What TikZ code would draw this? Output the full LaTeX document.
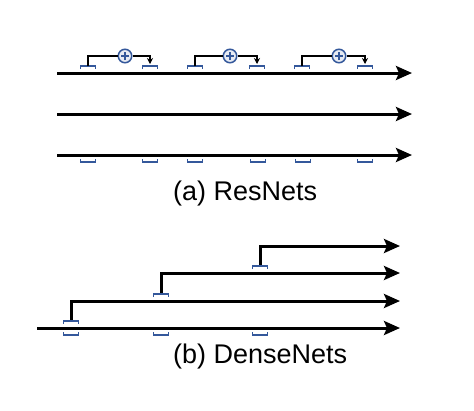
\documentclass[tikz,border=0pt]{standalone}
\usepackage{fontspec}
\setmainfont{Liberation Sans}
\usetikzlibrary{arrows.meta}
\definecolor{brblue}{RGB}{52,88,155}
\tikzset{
  x=1pt,y=-1pt,
  mainline/.style={line width=3pt,-{Stealth[length=16pt,width=14pt,inset=3pt]}},
  skipline/.style={line width=1.4pt},
  skiparrow/.style={line width=1.4pt,-{Stealth[length=6pt,width=6pt]}},
  brline/.style={draw=brblue,line width=1.8pt},
  pics/topbr/.style={code={\draw[brline] (-7.5,-4) -- (-7.5,-7) -- (7.5,-7) -- (7.5,-4);}},
  pics/botbr/.style={code={\draw[brline] (-7.5,4) -- (-7.5,7) -- (7.5,7) -- (7.5,4);}},
  addnode/.style={circle,draw=brblue,line width=1.5pt,fill=brblue!12,inner sep=0pt,minimum size=13.5pt,
    path picture={\draw[brblue,line width=1.8pt] ([xshift=-4pt]path picture bounding box.center) -- ([xshift=4pt]path picture bounding box.center)
      ([yshift=-4pt]path picture bounding box.center) -- ([yshift=4pt]path picture bounding box.center);}},
  label/.style={font=\fontsize{27}{30}\selectfont,inner sep=0pt,anchor=base west}
}
\begin{document}
\begin{tikzpicture}
\useasboundingbox (0,0) rectangle (474,410);
% ResNets main lines
\coordinate (a1s) at (57,73);  \coordinate (a1e) at (412,73);
\coordinate (a2s) at (57,114); \coordinate (a2e) at (412,114);
\coordinate (a3s) at (57,155); \coordinate (a3e) at (412,155);
\draw[mainline] (a1s) -- (a1e);
\draw[mainline] (a2s) -- (a2e);
\draw[mainline] (a3s) -- (a3e);
% skip connections
\foreach \i/\l/\c/\r in {1/88/125/150, 2/195/230/257, 3/302/339/365}{
  \pic at (\l,73) {topbr};
  \pic at (\r,73) {topbr};
  \coordinate (sl\i) at (\l,66);
  \coordinate (sr\i) at (\r,64);
  \node[addnode] (add\i) at (\c,56) {};
  \draw[skipline] (sl\i) |- (add\i.west);
  \draw[skiparrow] (add\i.east) -| (sr\i);
}
\foreach \x in {88,150,195,258,303,365}{ \pic at (\x,155) {botbr}; }
\node[label] (ta) at (173,200) {(a) ResNets};
% DenseNets
\coordinate (b4s) at (37,328); \coordinate (b4e) at (400,328);
\coordinate (b3s) at (71,321); \coordinate (b3e) at (400,301);
\coordinate (b2s) at (161,294); \coordinate (b2e) at (400,273);
\coordinate (b1s) at (260,266); \coordinate (b1e) at (400,246);
\draw[mainline] (b4s) -- (b4e);
\draw[mainline] (b3s) |- (b3e);
\draw[mainline] (b2s) |- (b2e);
\draw[mainline] (b1s) |- (b1e);
\pic at (71,328) {topbr};
\pic at (161,301) {topbr};
\pic at (260,273) {topbr};
\foreach \x in {71,161,260}{ \pic at (\x,328) {botbr}; }
\node[label] (tb) at (173,363) {(b) DenseNets};
\end{tikzpicture}
\end{document}
